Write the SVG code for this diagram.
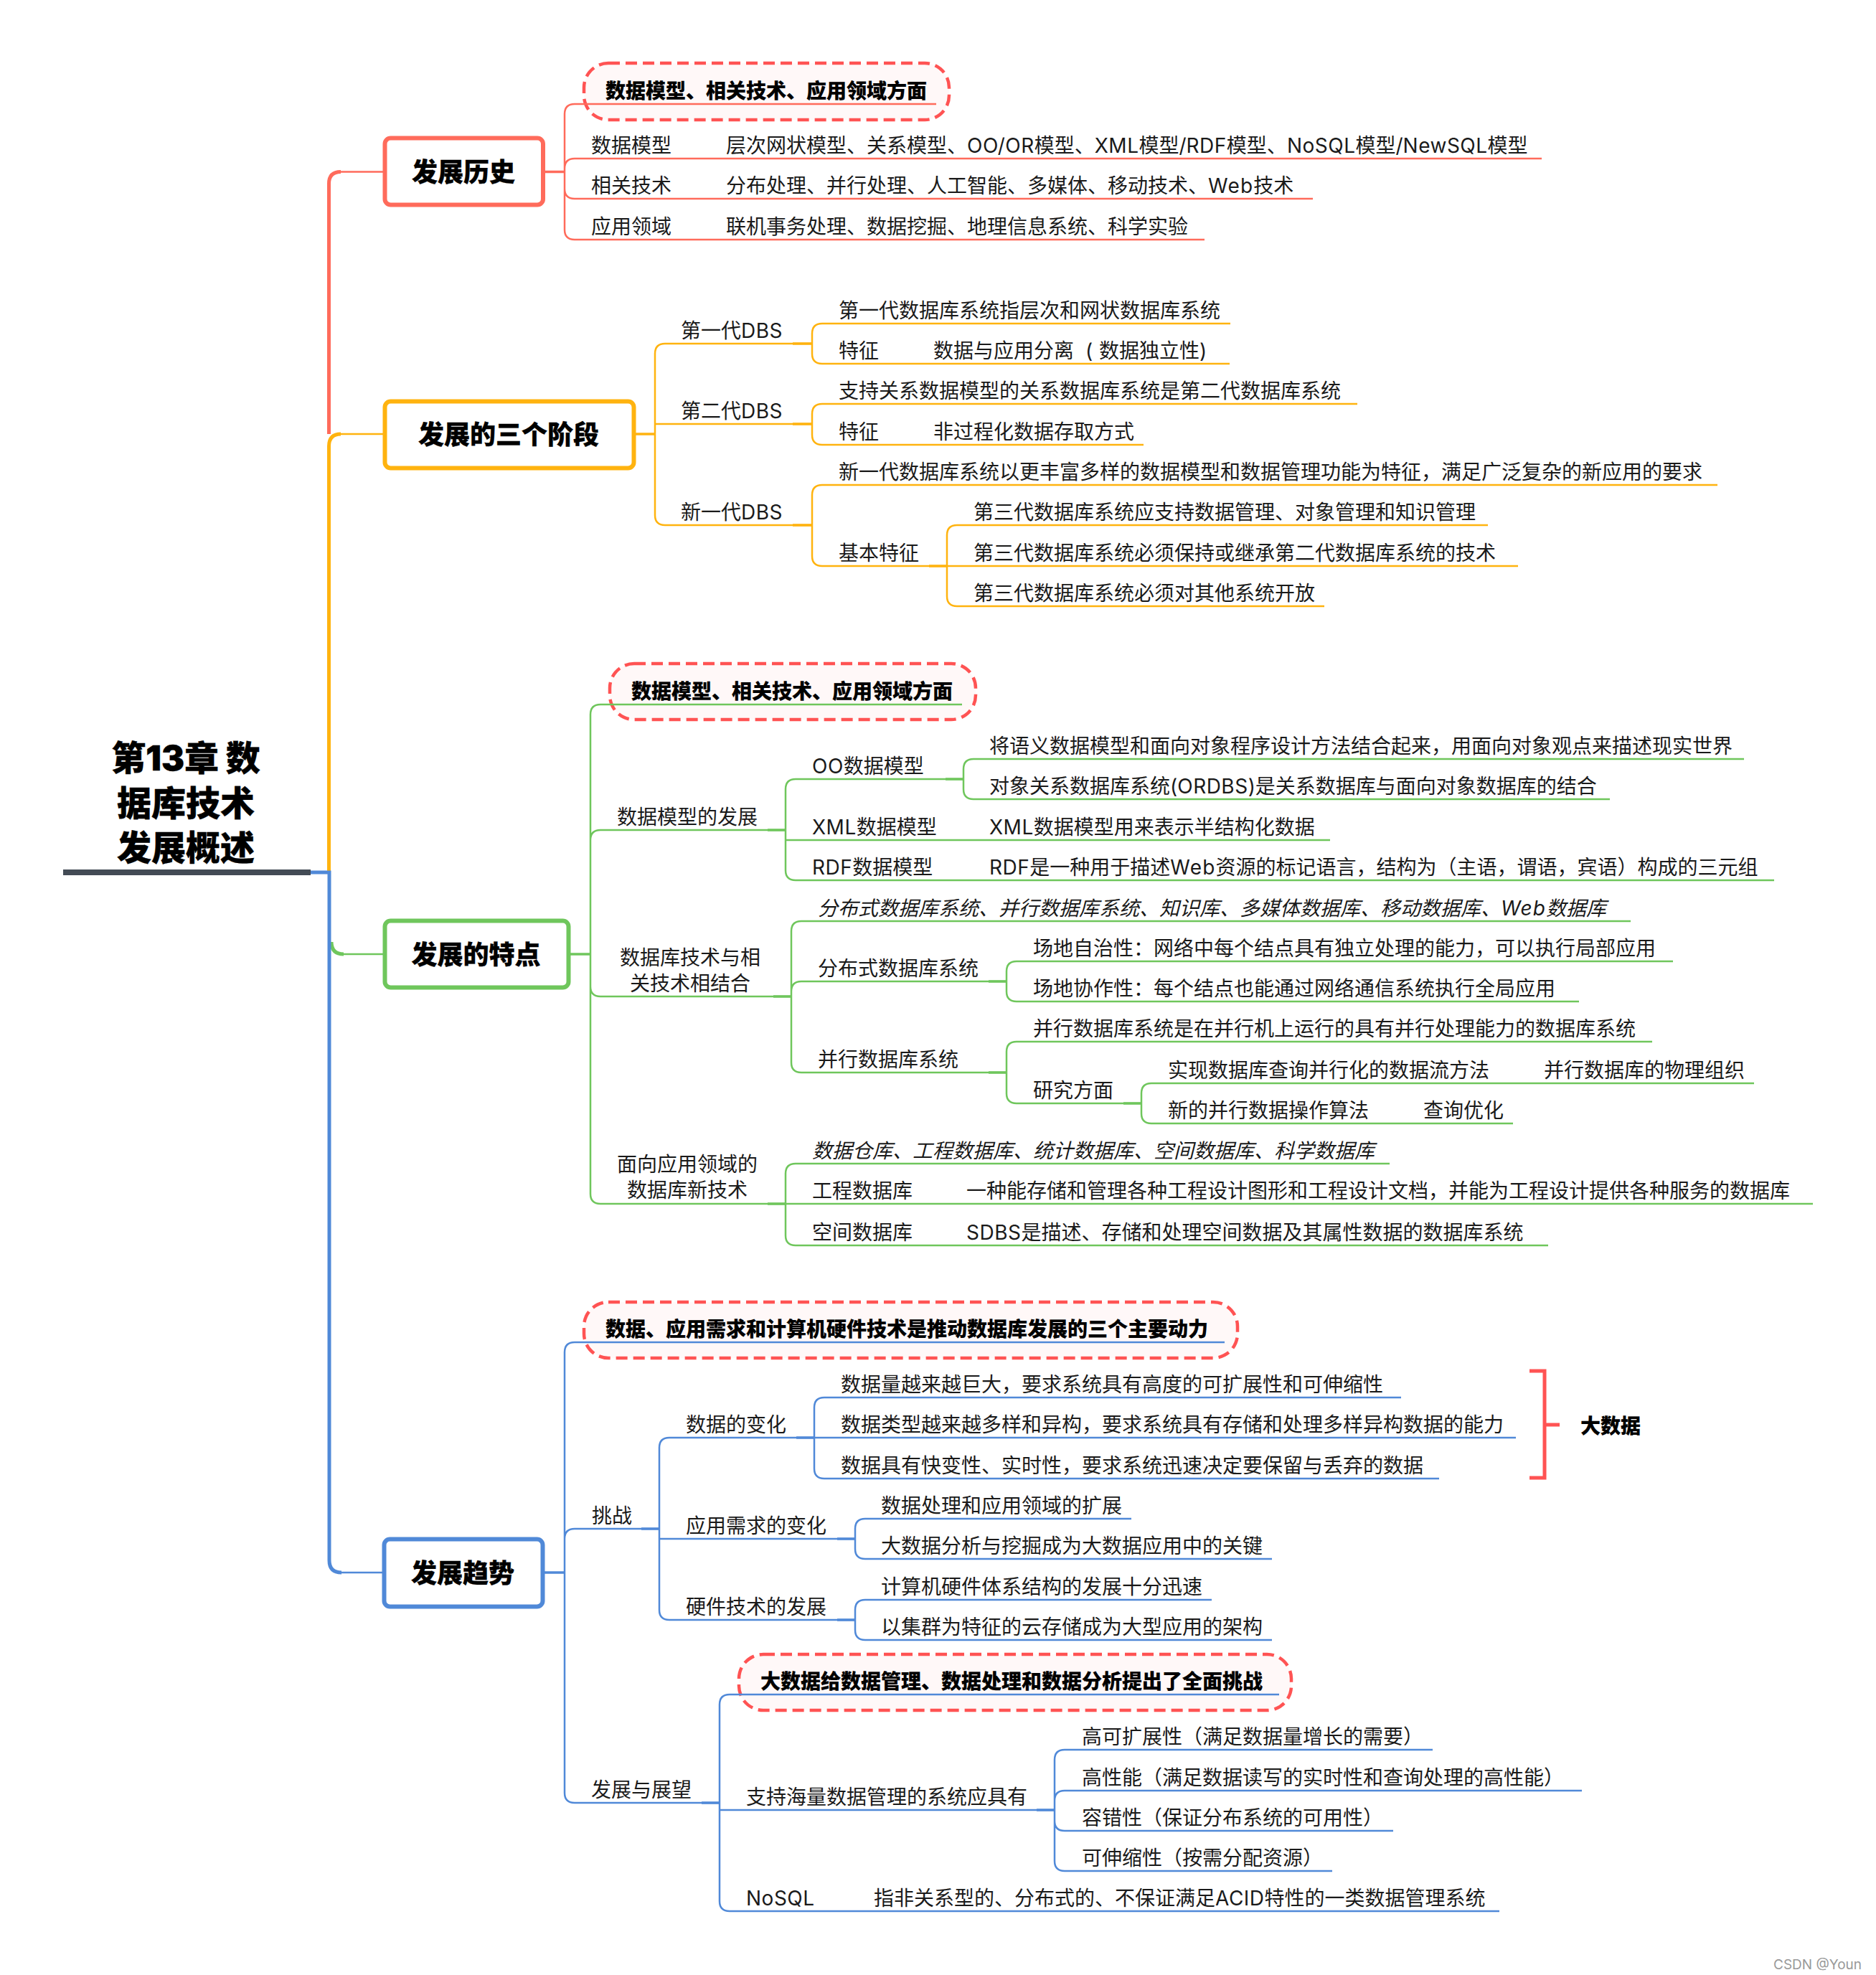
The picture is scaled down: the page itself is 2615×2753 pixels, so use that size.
<svg xmlns="http://www.w3.org/2000/svg" width="2615" height="2753" viewBox="0 0 2615 2753">
<style>
text{font-family:"Inter","Noto Sans CJK SC",sans-serif;font-size:28px;fill:#1a1a1a;transform:translate(-1px,.5px)}
.L{letter-spacing:.5px}
.W{letter-spacing:1.2px}
.b{font-weight:900;fill:#000;stroke:#000;stroke-width:.15}
.i{font-style:italic}
.c{text-anchor:middle}
.n{font-size:36px;font-weight:900;text-anchor:middle;fill:#000;stroke:#000;stroke-width:.3}
.h{font-size:48px;font-weight:900;text-anchor:middle;fill:#000;stroke:#000;stroke-width:.4}
.w{font-size:19px;fill:#999}
.sum{fill:#FFF8F8;stroke:#FF5353;stroke-width:4.5;stroke-dasharray:16 8}
.box{fill:#fff;stroke-width:6}
path{fill:none}
.l{stroke-width:2.5}
.k{stroke-width:3.5}
.s{stroke-width:5}
.red{stroke:#FF6B5B}.org{stroke:#FFB30F}.grn{stroke:#6FC65C}.blu{stroke:#5089D8}
</style>
<rect width="2615" height="2753" fill="#fff"/>
<g id="summary-history"><rect class="sum" x="814" y="88" width="509" height="79" rx="34"/></g>
<g id="summary-feature"><rect class="sum" x="850" y="925" width="510" height="78" rx="34"/></g>
<g id="summary-trend"><rect class="sum" x="814" y="1815" width="911" height="78" rx="34"/></g>
<g id="summary-outlook"><rect class="sum" x="1030" y="2306" width="770" height="78" rx="34"/></g>
<g id="connectors">
<g class="grn">
<path class="s" d="M462 1313Q462 1330 479 1330"/>
<path class="l" d="M479 1330H535"/>
<path class="k" d="M794 1330H823M1070 1157H1095M1078 1389H1103M1070 1678H1095M1318 1086H1343M1378 1368H1403M1378 1495H1403M1566 1538H1591"/>
<path class="l" d="M823 1330V996Q823 982 837 982H1341M823 1330V1171Q823 1157 837 1157H1095M823 1330V1375Q823 1389 837 1389H1103M823 1330V1664Q823 1678 837 1678H1095"/>
<path class="l" d="M1095 1157V1100Q1095 1086 1109 1086H1343M1095 1157V1171H1854M1095 1157V1213Q1095 1227 1109 1227H2473"/>
<path class="l" d="M1343 1086V1072Q1343 1058 1357 1058H2431M1343 1086V1100Q1343 1114 1357 1114H2244"/>
<path class="l" d="M1103 1389V1298Q1103 1284 1117 1284H2273M1103 1389V1382Q1103 1368 1117 1368H1403M1103 1389V1481Q1103 1495 1117 1495H1403"/>
<path class="l" d="M1403 1368V1354Q1403 1340 1417 1340H2332M1403 1368V1382Q1403 1396 1417 1396H2201"/>
<path class="l" d="M1403 1495V1466Q1403 1452 1417 1452H2303M1403 1495V1524Q1403 1538 1417 1538H1591"/>
<path class="l" d="M1591 1538V1524Q1591 1510 1605 1510H2445M1591 1538V1552Q1591 1566 1605 1566H2109"/>
<path class="l" d="M1095 1678V1636Q1095 1622 1109 1622H1937M1095 1678H2527M1095 1678V1722Q1095 1736 1109 1736H2158"/>
</g>
<g class="red">
<path class="s" d="M458.5 605V256Q458.5 239.5 475 239.5"/>
<path class="l" d="M475 239.5H535"/>
<path class="k" d="M759 239.5H787"/>
<path class="l" d="M787 239.5V159Q787 145 801 145H1305M787 239.5V235Q787 221 801 221H2149M787 239.5V263Q787 277 801 277H1830M787 239.5V320Q787 334 801 334H1679"/>
</g>
<g class="org">
<path class="s" d="M458.5 1216V622Q458.5 605 475 605"/>
<path class="l" d="M475 605H535"/>
<path class="k" d="M885 605H913M1105 479H1132M1105 591H1132M1105 732H1132M1295 789H1320"/>
<path class="l" d="M913 605V493Q913 479 927 479H1132M913 605V591H1132M913 605V718Q913 732 927 732H1132"/>
<path class="l" d="M1132 479V465Q1132 451 1146 451H1715M1132 479V493Q1132 507 1146 507H1714"/>
<path class="l" d="M1132 591V577Q1132 563 1146 563H1892M1132 591V606Q1132 620 1146 620H1594"/>
<path class="l" d="M1132 732V690Q1132 676 1146 676H2394M1132 732V775Q1132 789 1146 789H1320"/>
<path class="l" d="M1320 789V746Q1320 732 1334 732H2074M1320 789H2116M1320 789V831Q1320 845 1334 845H1846"/>
</g>
<g class="blu">
<path class="s" d="M433 1216H459V2175Q459 2192 476 2192"/>
<path class="l" d="M476 2192H534"/>
<path class="k" d="M758 2192H787M894 2131H919M978 2513H1003M1110 2004H1135M1167 2145H1192M1167 2258H1192M1445 2523H1470"/>
<path class="l" d="M787 2192V1885Q787 1871 801 1871H1707M787 2192V2145Q787 2131 801 2131H919M787 2192V2499Q787 2513 801 2513H1003"/>
<path class="l" d="M919 2131V2018Q919 2004 933 2004H1135M919 2131V2145H1192M919 2131V2244Q919 2258 933 2258H1192"/>
<path class="l" d="M1135 2004V1962Q1135 1948 1149 1948H1953M1135 2004H2113M1135 2004V2047Q1135 2061 1149 2061H2006"/>
<path class="l" d="M1192 2145V2131Q1192 2117 1206 2117H1577M1192 2145V2159Q1192 2173 1206 2173H1773"/>
<path class="l" d="M1192 2258V2244Q1192 2230 1206 2230H1689M1192 2258V2272Q1192 2286 1206 2286H1773"/>
<path class="l" d="M1003 2513V2376Q1003 2362 1017 2362H1783M1003 2513V2523H1470M1003 2513V2650Q1003 2664 1017 2664H2090"/>
<path class="l" d="M1470 2523V2453Q1470 2439 1484 2439H1997M1470 2523V2510Q1470 2496 1484 2496H2205M1470 2523V2538Q1470 2552 1484 2552H1942M1470 2523V2594Q1470 2608 1484 2608H1857"/>
</g>
<path d="M2132 1911H2153V2060H2132M2153 1986H2174" stroke="#FF5353" stroke-width="5"/>
</g>
<g id="root">
<text class="h" x="260" y="1073">第13章 数</text>
<text class="h" x="260" y="1136">据库技术</text>
<text class="h" x="260" y="1198">发展概述</text>
<rect x="88" y="1212" width="345" height="8" fill="#434B55"/>
</g>
<g id="node-history">
<rect class="box red" x="536.5" y="192.5" width="220.5" height="93" rx="8"/>
<text class="n" x="647" y="252">发展历史</text>
<text class="b" x="845" y="136">数据模型、相关技术、应用领域方面</text>
<text x="825" y="212">数据模型</text>
<text x="1013" y="212">层次网状模型、关系模型、<tspan class="L">OO/OR</tspan>模型、<tspan class="L">XML</tspan>模型/<tspan class="L">RDF</tspan>模型、<tspan class="L">NoSQL</tspan>模型/<tspan class="L">NewSQL</tspan>模型</text>
<text x="825" y="268">相关技术</text>
<text x="1013" y="268">分布处理、并行处理、人工智能、多媒体、移动技术、<tspan class="W">Web</tspan>技术</text>
<text x="825" y="325">应用领域</text>
<text x="1013" y="325">联机事务处理、数据挖掘、地理信息系统、科学实验</text>
</g>
<g id="node-stages">
<rect class="box org" x="536.5" y="559.5" width="347" height="93" rx="8"/>
<text class="n" x="710" y="618">发展的三个阶段</text>
<text x="950" y="470">第一代<tspan class="L">DBS</tspan></text>
<text x="1170" y="442">第一代数据库系统指层次和网状数据库系统</text>
<text x="1170" y="498">特征</text>
<text x="1302" y="498">数据与应用分离<tspan x="1514">(</tspan><tspan x="1533">数据独立性)</tspan></text>
<text x="950" y="582">第二代<tspan class="L">DBS</tspan></text>
<text x="1170" y="554">支持关系数据模型的关系数据库系统是第二代数据库系统</text>
<text x="1170" y="611">特征</text>
<text x="1302" y="611">非过程化数据存取方式</text>
<text x="950" y="723">新一代<tspan class="L">DBS</tspan></text>
<text x="1170" y="667">新一代数据库系统以更丰富多样的数据模型和数据管理功能为特征，满足广泛复杂的新应用的要求</text>
<text x="1170" y="780">基本特征</text>
<text x="1358" y="723">第三代数据库系统应支持数据管理、对象管理和知识管理</text>
<text x="1358" y="780">第三代数据库系统必须保持或继承第二代数据库系统的技术</text>
<text x="1358" y="836">第三代数据库系统必须对其他系统开放</text>
</g>
<g id="node-features">
<rect class="box grn" x="536.5" y="1283.5" width="256" height="93" rx="8"/>
<text class="n" x="664.5" y="1343">发展的特点</text>
<text class="b" x="881" y="973">数据模型、相关技术、应用领域方面</text>
<text x="861" y="1148">数据模型的发展</text>
<text x="1133" y="1077"><tspan class="L">OO</tspan>数据模型</text>
<text x="1380" y="1049">将语义数据模型和面向对象程序设计方法结合起来，用面向对象观点来描述现实世界</text>
<text x="1380" y="1105">对象关系数据库系统(<tspan class="L">ORDBS</tspan>)是关系数据库与面向对象数据库的结合</text>
<text x="1133" y="1162"><tspan class="L">XML</tspan>数据模型</text>
<text x="1380" y="1162"><tspan class="L">XML</tspan>数据模型用来表示半结构化数据</text>
<text x="1133" y="1218"><tspan class="L">RDF</tspan>数据模型</text>
<text x="1380" y="1218"><tspan class="L">RDF</tspan>是一种用于描述<tspan class="W">Web</tspan>资源的标记语言，结构为（主语，谓语，宾语）构成的三元组</text>
<text class="c" x="963" y="1344">数据库技术与相</text>
<text class="c" x="963" y="1380">关技术相结合</text>
<text class="i" x="1141" y="1275">分布式数据库系统、并行数据库系统、知识库、多媒体数据库、移动数据库、<tspan class="W">Web</tspan>数据库</text>
<text x="1141" y="1359">分布式数据库系统</text>
<text x="1441" y="1331">场地自治性：网络中每个结点具有独立处理的能力，可以执行局部应用</text>
<text x="1441" y="1387">场地协作性：每个结点也能通过网络通信系统执行全局应用</text>
<text x="1141" y="1486">并行数据库系统</text>
<text x="1441" y="1443">并行数据库系统是在并行机上运行的具有并行处理能力的数据库系统</text>
<text x="1441" y="1529">研究方面</text>
<text x="1629" y="1501">实现数据库查询并行化的数据流方法</text>
<text x="2153" y="1501">并行数据库的物理组织</text>
<text x="1629" y="1557">新的并行数据操作算法</text>
<text x="1985" y="1557">查询优化</text>
<text class="c" x="959" y="1632">面向应用领域的</text>
<text class="c" x="959" y="1668">数据库新技术</text>
<text class="i" x="1133" y="1613">数据仓库、工程数据库、统计数据库、空间数据库、科学数据库</text>
<text x="1133" y="1669">工程数据库</text>
<text x="1348" y="1669">一种能存储和管理各种工程设计图形和工程设计文档，并能为工程设计提供各种服务的数据库</text>
<text x="1133" y="1727">空间数据库</text>
<text x="1348" y="1727"><tspan class="L">SDBS</tspan>是描述、存储和处理空间数据及其属性数据的数据库系统</text>
</g>
<g id="node-trends">
<rect class="box blu" x="535.5" y="2145.5" width="221" height="94" rx="8"/>
<text class="n" x="646" y="2205">发展趋势</text>
<text class="b" x="845" y="1862">数据、应用需求和计算机硬件技术是推动数据库发展的三个主要动力</text>
<text x="826" y="2122">挑战</text>
<text x="957" y="1995">数据的变化</text>
<text x="1173" y="1939">数据量越来越巨大，要求系统具有高度的可扩展性和可伸缩性</text>
<text x="1173" y="1995">数据类型越来越多样和异构，要求系统具有存储和处理多样异构数据的能力</text>
<text x="1173" y="2052">数据具有快变性、实时性，要求系统迅速决定要保留与丢弃的数据</text>
<text class="b" x="2204" y="1997">大数据</text>
<text x="957" y="2136">应用需求的变化</text>
<text x="1229" y="2108">数据处理和应用领域的扩展</text>
<text x="1229" y="2164">大数据分析与挖掘成为大数据应用中的关键</text>
<text x="957" y="2249">硬件技术的发展</text>
<text x="1229" y="2221">计算机硬件体系结构的发展十分迅速</text>
<text x="1229" y="2277">以集群为特征的云存储成为大型应用的架构</text>
<text x="825" y="2504">发展与展望</text>
<text class="b" x="1061" y="2353">大数据给数据管理、数据处理和数据分析提出了全面挑战</text>
<text x="1041" y="2514">支持海量数据管理的系统应具有</text>
<text x="1509" y="2430">高可扩展性（满足数据量增长的需要）</text>
<text x="1509" y="2487">高性能（满足数据读写的实时性和查询处理的高性能）</text>
<text x="1509" y="2543">容错性（保证分布系统的可用性）</text>
<text x="1509" y="2599">可伸缩性（按需分配资源）</text>
<text x="1041" y="2655"><tspan class="L">NoSQL</tspan></text>
<text x="1219" y="2655">指非关系型的、分布式的、不保证满足<tspan class="L">ACID</tspan>特性的一类数据管理系统</text>
</g>
<text class="w" x="2473" y="2744">CSDN @Youn</text>
</svg>
